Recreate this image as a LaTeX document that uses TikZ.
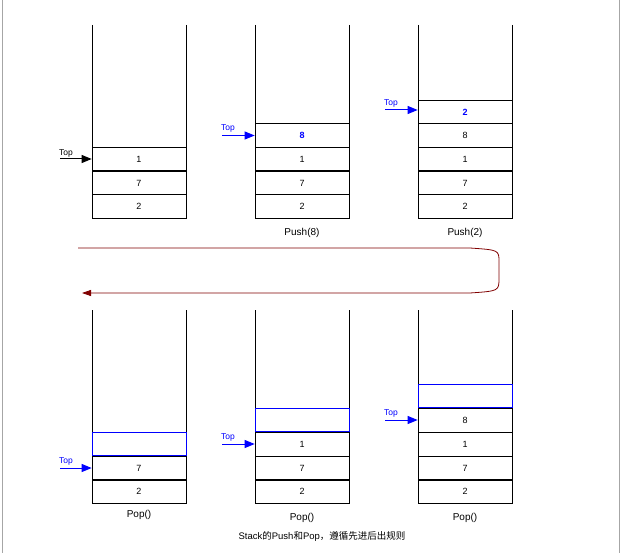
\documentclass[tikz,border=0pt]{standalone}
\usepackage{fontspec}
\setmainfont{Liberation Sans}
\newfontfamily\cjk{Noto Sans CJK SC}
\usepackage{xcolor}
\usepackage{tikz}
\usetikzlibrary{arrows.meta}
\definecolor{darkred}{RGB}{128,0,0}
\definecolor{topblue}{RGB}{0,0,255}

\begin{document}
\begin{tikzpicture}[x=1pt,y=-1pt,
  cell/.style={draw, line width=0.7pt, minimum width=94pt, minimum height=23.7pt, inner sep=0pt, font=\fontsize{9}{10}\selectfont},
  newcell/.style={cell, draw=topblue, line width=1pt},
  wall/.style={draw, line width=0.7pt},
  topptr/.style={-{Triangle[length=10pt,width=8pt]}, line width=1pt},
  toplabel/.style={font=\fontsize{8.5}{9}\selectfont, inner sep=0pt, anchor=south west},
  oplabel/.style={font=\fontsize{10}{11}\selectfont}]
\useasboundingbox (0,0) rectangle (623,553);
\draw[gray!70] (2,0) -- (2,553) (619,0) -- (619,553);

% push row
\foreach \x in {92,255,418}
  \draw[wall] (\x,25) -- (\x,218) (\x+94,25) -- (\x+94,218);
\node (a1) [cell] at (139,159) {1};
\node (a2) [cell] at (139,183) {7};
\node (a3) [cell] at (139,206.5) {2};
\node (b0) [cell, text=topblue, font=\fontsize{9}{10}\selectfont\bfseries] at (302,135.5) {8};
\node (b1) [cell] at (302,159) {1};
\node (b2) [cell] at (302,183) {7};
\node (b3) [cell] at (302,206.5) {2};
\node (c00) [cell, text=topblue, font=\fontsize{9}{10}\selectfont\bfseries] at (465,112) {2};
\node (c0) [cell] at (465,135.5) {8};
\node (c1) [cell] at (465,159) {1};
\node (c2) [cell] at (465,183) {7};
\node (c3) [cell] at (465,206.5) {2};
\node (pusha) [oplabel] at (302,233) {Push(8)};
\node (pushb) [oplabel] at (465,233) {Push(2)};

\coordinate (ta) at (60,159);
\coordinate (tb) at (222,135.5);
\coordinate (tc) at (385,110);
\draw[topptr] (ta) -- (a1.west);
\node (tla) [toplabel] at (59,157) {Top};
\draw[topptr, topblue] (tb) -- (b0.west);
\node (tlb) [toplabel, text=topblue] at (221,132) {Top};
\draw[topptr, topblue] (tc) -- (c00.west |- tc);
\node (tlc) [toplabel, text=topblue] at (384,107) {Top};

% turn-around arrow
\coordinate (go) at (78,248);
\coordinate (back) at (82,293);
\draw[darkred, line width=0.8pt, -{Triangle[length=9pt,width=6pt]}] (go) -- (470,248)
  .. controls (499,250) .. (499,262) -- (499,278)
  .. controls (499,291) .. (470,293) -- (back);

% pop row
\foreach \x in {92,255,418}
  \draw[wall] (\x,310) -- (\x,503) (\x+94,310) -- (\x+94,503);
\node (d2) [cell] at (139,468) {7};
\node (d3) [cell] at (139,491.5) {2};
\node (e1) [cell] at (302,444) {1};
\node (e2) [cell] at (302,468) {7};
\node (e3) [cell] at (302,491.5) {2};
\node (f1) [cell] at (465,420) {8};
\node (f2) [cell] at (465,444) {1};
\node (f3) [cell] at (465,468) {7};
\node (f4) [cell] at (465,491.5) {2};
\node (d0) [newcell] at (139,444) {};
\node (e0) [newcell] at (302,420) {};
\node (f0) [newcell] at (465,396) {};
\node (popa) [oplabel] at (139,515) {Pop()};
\node (popb) [oplabel] at (302,518) {Pop()};
\node (popc) [oplabel] at (465,518) {Pop()};

\coordinate (td) at (60,468);
\coordinate (te) at (222,444);
\coordinate (tf) at (385,420);
\draw[topptr, topblue] (td) -- (d2.west);
\node (tld) [toplabel, text=topblue] at (59,465) {Top};
\draw[topptr, topblue] (te) -- (e1.west);
\node (tle) [toplabel, text=topblue] at (221,441) {Top};
\draw[topptr, topblue] (tf) -- (f1.west);
\node (tlf) [toplabel, text=topblue] at (384,417) {Top};

\node (caption) [font=\fontsize{9.5}{11}\selectfont] at (322,536) {Stack{\cjk 的}Push{\cjk 和}Pop{\cjk ，遵循先进后出规则}};
\end{tikzpicture}
\end{document}
